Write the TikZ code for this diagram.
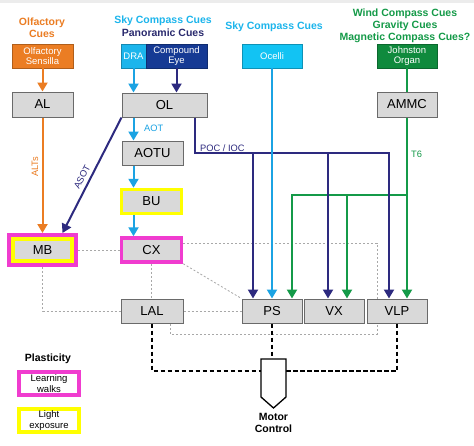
\documentclass[tikz,border=0pt]{standalone}
\usepackage{fontspec}
\setmainfont{Liberation Sans}
\usetikzlibrary{arrows.meta,calc,fit}
\pgfdeclarelayer{bg}
\pgfsetlayers{bg,main}
\definecolor{corange}{HTML}{EB7D23}
\definecolor{ccyan}{HTML}{1BA3E3}
\definecolor{csky}{HTML}{1CB5EC}
\definecolor{cocelli}{HTML}{12C3F3}
\definecolor{cnavy}{HTML}{2D2A7F}
\definecolor{cnavytext}{HTML}{2A2A6E}
\definecolor{ceyeblue}{HTML}{163A94}
\definecolor{cgreen}{HTML}{149A48}
\definecolor{cjo}{HTML}{0F8A3D}
\definecolor{cmag}{HTML}{F03CCF}
\definecolor{cyel}{HTML}{FFFF00}
\definecolor{cgray}{HTML}{D9D9D9}
\definecolor{cborder}{HTML}{6A6A6A}
\definecolor{cdot}{HTML}{A8A8A8}
\definecolor{cband}{HTML}{ECECEC}
\begin{document}
\begin{tikzpicture}[x=1pt,y=-1pt,
  box/.style={draw=cborder,fill=cgray,line width=1pt,minimum width=60pt,minimum height=24pt,inner sep=0pt,font=\fontsize{13}{15}\selectfont},
  sensor/.style={draw=#1!75!black,fill=#1,line width=0.8pt,minimum height=24pt,inner sep=0pt,text=white,align=center,font=\fontsize{9.5}{10.5}\selectfont},
  head/.style={align=center,font=\bfseries\fontsize{10.5}{12}\selectfont,inner sep=0pt},
  lab/.style={font=\fontsize{9.3}{11}\selectfont,inner sep=0pt},
  link/.style={line width=2pt},
  arr/.style={line width=2pt,-{Triangle[width=10pt,length=9pt]}},
  dots/.style={draw=cdot,line width=0.8pt,dash pattern=on 2pt off 2pt},
  motor/.style={line width=2.3pt,dash pattern=on 4.5pt off 2.5pt},
  plastic/.style={draw=#1,line width=3.5pt,minimum width=60pt,minimum height=24pt}
]
\useasboundingbox (0,0) rectangle (474,445);

% headers
\node[head,text=corange] (hOlf) at (42,28) {Olfactory\\Cues};
\node[head,text=csky] (hSky1) at (163,20.5) {Sky Compass Cues};
\node[head,text=cnavytext] (hPan) at (163,32.5) {Panoramic Cues};
\node[head,text=csky] (hSky2) at (274,26.5) {Sky Compass Cues};
\node[head,text=cgreen] (hWind) at (405,25.5) {Wind Compass Cues\\Gravity Cues\\Magnetic Compass Cues?};

% sensory boxes
\node[sensor=corange,minimum width=61pt] (sens) at (42.5,56) {Olfactory\\Sensilla};
\node[sensor=csky,minimum width=25pt] (dra) at (133.5,56) {DRA};
\node[sensor=ceyeblue,minimum width=61pt] (ceye) at (176.5,56) {Compound\\Eye};
\node[sensor=cocelli,minimum width=60pt] (ocelli) at (272,56) {Ocelli};
\node[sensor=cjo,minimum width=60pt] (jo) at (407,56) {Johnston\\Organ};

% neuropils
\node[box,minimum width=61pt,minimum height=25pt] (al) at (42.5,104.5) {AL};
\node[box,minimum width=85pt] (ol) at (164.5,105) {OL};
\node[box,minimum height=25pt] (ammc) at (407,104.5) {AMMC};
\node[box,minimum width=61pt] (aotu) at (152.5,153) {AOTU};
\node[box,plastic=cyel] (bu) at (151.5,201.5) {BU};
\node[box,plastic=cmag] (cx) at (151.5,250) {CX};
\node[box,draw=cyel,line width=4pt,minimum width=59pt,minimum height=22pt] (mb) at (42.5,250) {MB};
\node[fit=(mb),inner sep=2pt,draw=cmag,line width=4pt,outer sep=2pt] (mbo) {};
\node[box,minimum width=62pt] (lal) at (152,311) {LAL};
\node[box] (ps) at (272,311) {PS};
\node[box] (vx) at (334,311) {VX};
\node[box] (vlp) at (397,311) {VLP};

% helper coordinates
\coordinate (p0) at (195,153);
\coordinate (pA) at (253,153);
\coordinate (pB) at (328,153);
\coordinate (pC) at (389,153);
\coordinate (g0) at (407,195);
\coordinate (g1) at (292,195);
\coordinate (g2) at (347,195);
\coordinate (dT) at (377,243);
\coordinate (dR) at (377,334);
\coordinate (dL) at (170,334);
\coordinate (mcTL) at (261,359);
\coordinate (mcTR) at (286,359);
\coordinate (mcBR) at (286,397);
\coordinate (mcTip) at (273.5,408);
\coordinate (mcBL) at (261,397);
\coordinate (mcL) at (261,371);
\coordinate (mcR) at (286,371);

% background and dotted links (behind boxes)
\begin{pgfonlayer}{bg}
\fill[white] (0,0) rectangle (474,445);
\fill[cband] (0,0) rectangle (474,2.5);
\draw[dots] (mbo.east) -- (cx.west);
\draw[dots] (cx.east |- dT) -- (dT) -- (dR) -- (dL) -- (lal.south -| dL);
\draw[dots] (cx.south) -- (cx.south |- lal.north);
\draw[dots] (cx.south east) -- (ps.north west);
\draw[dots] (mbo.south) |- (lal.west);
\draw[dots] (lal.east) -- (ps.west);
\end{pgfonlayer}

% olfactory
\draw[arr,corange] (sens.south) -- (al.north);
\draw[arr,corange] (al.south) -- (mbo.north);
\node[lab,text=corange,rotate=90] (lALT) at (35,167) {ALTs};

% visual inputs
\draw[arr,ccyan] (dra.south) -- (dra.south |- ol.north);
\draw[arr,cnavy] (ceye.south) -- (ceye.south |- ol.north);
\draw[arr,ccyan] (ol.south -| dra) -- (aotu.north -| dra);
\node[lab,text=ccyan,anchor=west] (lAOT) at (144,128.5) {AOT};
\draw[arr,ccyan] (aotu.south -| dra) -- (bu.north -| dra);
\draw[arr,ccyan] (bu.south -| dra) -- (cx.north -| dra);
\draw[arr,cnavy] (ol.south west) -- ($(mbo.north)+(20,0)$);
\node[lab,text=cnavy,rotate=62.6] (lASOT) at (82,177) {ASOT};

% green (mechanosensory)
\draw[link,cgreen] (jo.south) -- (ammc.north);
\draw[arr,cgreen] (ammc.south) -- (vlp.north -| ammc.south);
\node[lab,text=cgreen,anchor=west] (lT6) at (411,154) {T6};
\draw[arr,cgreen] (g0) -| (ps.north -| g1);
\draw[arr,cgreen] (g2) -- (vx.north -| g2);

% POC / IOC
\draw[arr,cnavy] (ol.south -| p0) |- (pC) -- (vlp.north -| pC);
\draw[arr,cnavy] (pA) -- (ps.north -| pA);
\draw[arr,cnavy] (pB) -- (vx.north -| pB);
\node[lab,text=cnavy,anchor=base west] (lPOC) at (200,151.5) {POC / IOC};

% ocelli
\draw[arr,ccyan] (ocelli.south) -- (ps.north);

% motor control
\draw[motor] (lal.south) |- (mcL);
\draw[motor] (ps.south) -- (ps.south |- mcTL);
\draw[motor] (vlp.south) |- (mcR);
\draw[line width=1.3pt,fill=white,line join=miter] (mcTL) -- (mcTR) -- (mcBR) -- (mcTip) -- (mcBL) -- cycle;
\node[head] (lMotor) at (273.5,423) {Motor\\Control};

% legend
\node[head] (lPlast) at (48,359) {Plasticity};
\node[plastic=cmag,fill=white,minimum height=23pt,inner sep=0pt,align=center,font=\fontsize{9.5}{10.7}\selectfont] (lgLW) at (49,383.5) {Learning\\walks};
\node[plastic=cyel,fill=white,minimum height=23pt,inner sep=0pt,align=center,font=\fontsize{9.5}{10.7}\selectfont] (lgLE) at (49,420.5) {Light\\exposure};
\end{tikzpicture}
\end{document}
